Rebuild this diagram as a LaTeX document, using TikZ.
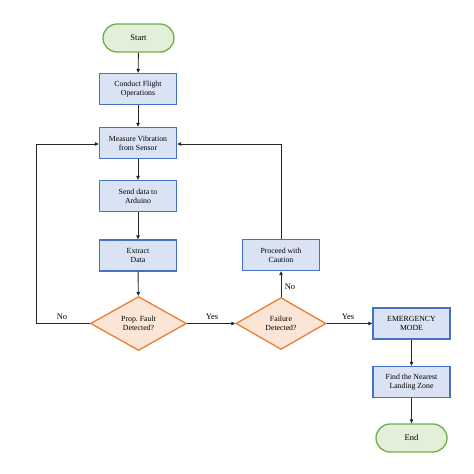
\documentclass[tikz,border=0pt]{standalone}
\usepackage{fontspec}
\setmainfont{Liberation Serif}
\usetikzlibrary{shapes.geometric,arrows.meta}
\definecolor{bfill}{HTML}{DAE3F3}
\definecolor{bdraw}{HTML}{4472C4}
\definecolor{gfill}{HTML}{E2F0D9}
\definecolor{gdraw}{HTML}{70AD47}
\definecolor{ofill}{HTML}{FBE5D6}
\definecolor{odraw}{HTML}{ED7D31}
\tikzset{
  x=1pt,y=-1pt,
  procbox/.style={draw=bdraw,fill=bfill,line width=1.3pt,minimum width=77pt,minimum height=31pt,inner sep=1pt,align=center,font=\fontsize{7.8}{9}\selectfont},
  termbox/.style={draw=gdraw,fill=gfill,line width=1.3pt,rounded corners=14pt,minimum width=71pt,minimum height=28pt,align=center,font=\fontsize{8.5}{10}\selectfont},
  decbox/.style={diamond,draw=odraw,fill=ofill,line width=1.3pt,minimum width=96pt,minimum height=54pt,aspect=1.8,inner sep=0pt,align=center,font=\fontsize{7.8}{9}\selectfont},
  flow/.style={draw=black!85,line width=0.9pt,-{Triangle[length=4pt,width=3.5pt]}},
  lbl/.style={font=\fontsize{8.5}{10}\selectfont}
}
\begin{document}
\begin{tikzpicture}
\useasboundingbox (0,0) rectangle (474,474);
\node[termbox] (start) at (138.5,38) {Start};
\node[procbox] (conduct) at (138,89) {Conduct Flight\\Operations};
\node[procbox] (measure) at (138,143) {Measure Vibration\\from Sensor};
\node[procbox] (send) at (138,196) {Send data to\\Arduino};
\node[procbox] (extract) at (138,255.5) {Extract\\Data};
\node[decbox] (fault) at (138.5,323.5) {Prop.\ Fault\\Detected?};
\node[decbox,minimum width=90pt,minimum height=52pt] (fail) at (281,323.5) {Failure\\Detected?};
\node[procbox] (caution) at (281,255) {Proceed with\\Caution};
\node[procbox] (emerg) at (411.5,323.5) {EMERGENCY\\MODE};
\node[procbox] (land) at (411.5,382) {Find the Nearest\\Landing Zone};
\node[termbox] (end) at (411.5,438) {End};
\coordinate (lc) at (36,323.5);
\coordinate (lt) at (36,144);
\coordinate (rt) at (281,144);
\draw[flow] (start) -- (conduct);
\draw[flow] (conduct) -- (measure);
\draw[flow] (measure) -- (send);
\draw[flow] (send) -- (extract);
\draw[flow] (extract) -- (fault);
\draw[flow] (fault.west) -- (lc) -- (lt) -- (measure.west |- lt);
\draw[flow] (fault.east) -- (fail.west);
\draw[flow] (fail.north) -- (caution.south);
\draw[flow] (caution.north) -- (rt) -- (measure.east |- rt);
\draw[flow] (fail.east) -- (emerg.west);
\draw[flow] (emerg) -- (land);
\draw[flow] (land) -- (end);
\node[lbl] (no1) at (62,317) {No};
\node[lbl] (yes1) at (212,317) {Yes};
\node[lbl] (no2) at (290,287) {No};
\node[lbl] (yes2) at (348,317) {Yes};
\end{tikzpicture}
\end{document}
